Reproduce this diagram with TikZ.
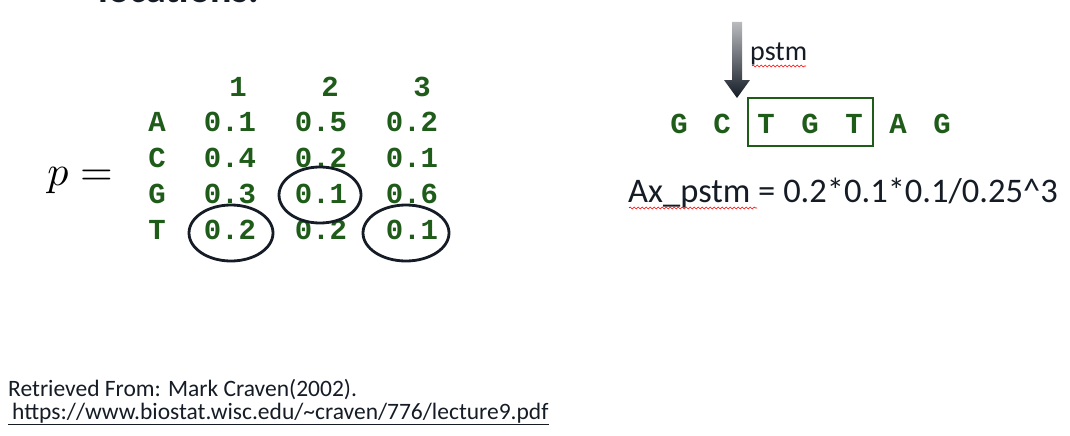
\documentclass[tikz,border=0pt]{standalone}
\usepackage{fontspec}
\setmainfont{Carlito}
\newfontfamily\cour[Scale=1]{Liberation Mono}
\usetikzlibrary{decorations.pathmorphing,shadings}
\definecolor{dg}{HTML}{1F5C1A}
\definecolor{ink}{HTML}{151C26}
\begin{document}
\begin{tikzpicture}[x=1pt,y=-1pt,
  mono/.style={font=\cour\bfseries\fontsize{29}{29}\selectfont,text=dg,inner sep=0pt,anchor=base},
  ring/.style={draw=ink,line width=2.8pt},
  squig/.style={red,line width=0.6pt,decorate,decoration={snake,amplitude=1pt,segment length=4pt}}]
\useasboundingbox (0,0) rectangle (1070,436);
\node[font=\fontsize{40}{40}\selectfont\bfseries,text=ink,anchor=base west] (top) at (95,3) {locations.};
\node[anchor=base,inner sep=0pt] (peq) at (80,185) {\scalebox{4.2}{$p=$}};
% header
\foreach \c/\x in {1/238,2/330,3/422} \node[mono] (h\c) at (\x,96) {\c};
\foreach \l/\y in {A/131,C/167,G/203,T/239} \node[mono] (r\l) at (157,\y) {\l};
\foreach \r/\y/\a/\b/\cc in {A/131/0.1/0.5/0.2, C/167/0.4/0.2/0.1, G/203/0.3/0.1/0.6, T/239/0.2/0.2/0.1}{
  \node[mono] (c\r1) at (230,\y) {\a};
  \node[mono] (c\r2) at (321,\y) {\b};
  \node[mono] (c\r3) at (412,\y) {\cc};
}
\draw[ring] (320,195) ellipse [x radius=41,y radius=28];
\draw[ring] (231,233) ellipse [x radius=42,y radius=28];
\draw[ring] (406,233) ellipse [x radius=43,y radius=28];
% sequence
\foreach \s/\x [count=\i] in {G/679,C/722,T/766,G/810,T/854,A/898,G/942}
  \node[mono] (s\i) at (\x,133) {\s};
\draw[dg,line width=1.6pt] (748,98) rectangle (873,146);
% arrow
\shade[top color=ink!30,bottom color=ink] (732,22) -- (742,22) -- (742,80) -- (750,80) -- (737,98) -- (724,80) -- (732,80) -- cycle;
\node[font=\fontsize{28}{28}\selectfont,text=ink,anchor=base west,inner sep=0pt] (pstm) at (750,60) {pstm};
\draw[squig] (752,66) -- (806,66);
\node[font=\fontsize{34.5}{34.5}\selectfont,text=ink,anchor=base west,inner sep=0pt] (fml) at (628,202) {Ax\_pstm = 0.2*0.1*0.1/0.25\^{}3};
\draw[squig] (629,208) -- (757,208);
% source
\node[font=\fontsize{23.5}{23.5}\selectfont,text=ink,anchor=base west,inner sep=0pt] (src) at (8,396) {Retrieved From: Mark Craven(2002).};
\node[font=\fontsize{23.5}{23.5}\selectfont,text=ink,anchor=base west,inner sep=0pt] (url) at (12,419) {https://www.biostat.wisc.edu/\textasciitilde craven/776/lecture9.pdf};
\draw[ink,line width=0.8pt] (8,424) -- (url.south east |- 0,424);
\end{tikzpicture}
\end{document}
